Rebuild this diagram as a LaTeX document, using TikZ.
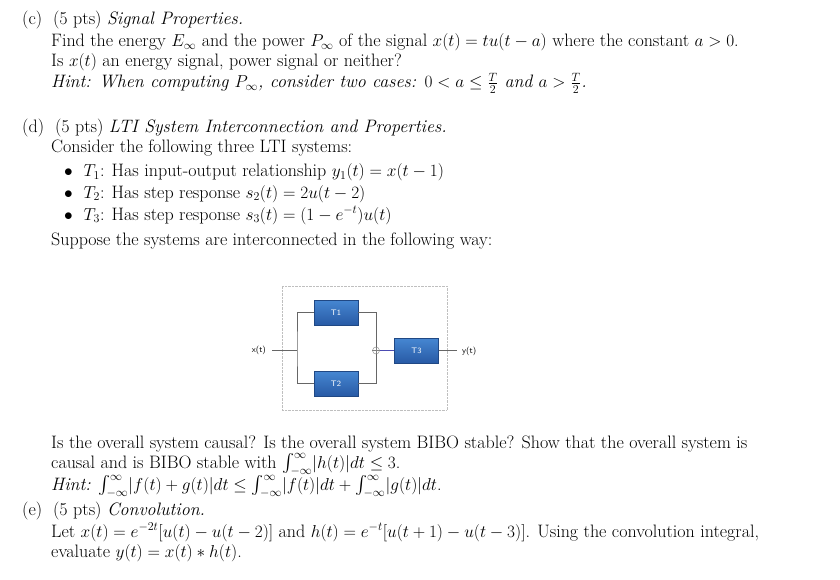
\documentclass[tikz,border=0pt]{standalone}
\usepackage{amsmath,amssymb}
\definecolor{btop}{RGB}{70,135,210}
\definecolor{bbot}{RGB}{40,90,165}
\newcommand{\Iinf}{\smash{\int_{-\infty}^{\infty}}}
\begin{document}
\begin{tikzpicture}[x=1pt,y=-1pt,
  txt/.style={anchor=base west,inner sep=0pt,font=\fontsize{18}{21}\selectfont},
  blk/.style={draw=bbot!80!black,top color=btop,bottom color=bbot,text=white,minimum width=44pt,minimum height=25pt,inner sep=0pt,font=\sffamily\fontsize{8}{9}\selectfont},
  lbl/.style={inner sep=0pt,font=\sffamily\fontsize{8.5}{10}\selectfont},
  wire/.style={draw=gray!80!black,line width=0.8pt}]
\useasboundingbox (0,0) rectangle (840,580);
\node[txt] (c1) at (22,25) {(c)\ \ (5 pts) \textit{Signal Properties.}};
\node[txt] (c2) at (51,47) {Find the energy $E_\infty$ and the power $P_\infty$ of the signal $x(t)=tu(t-a)$ where the constant $a>0$.};
\node[txt] (c3) at (51,67) {Is $x(t)$ an energy signal, power signal or neither?};
\node[txt] (c4) at (51,88) {\textit{Hint: When computing $P_\infty$, consider two cases: $0<a\le\smash{\frac{T}{2}}$ and $a>\smash{\frac{T}{2}}$.}};
\node[txt] (d1) at (22,133) {(d)\ \ (5 pts) \textit{LTI System Interconnection and Properties.}};
\node[txt] (d2) at (51,153) {Consider the following three LTI systems:};
\node[txt] (b1) at (64,177) {$\bullet$\ \ $T_1$: Has input-output relationship $y_1(t)=x(t-1)$};
\node[txt] (b2) at (64,198) {$\bullet$\ \ $T_2$: Has step response $s_2(t)=2u(t-2)$};
\node[txt] (b3) at (64,220) {$\bullet$\ \ $T_3$: Has step response $s_3(t)=(1-e^{-t})u(t)$};
\node[txt] (d3) at (51,245) {Suppose the systems are interconnected in the following way:};
\node[txt] (e1) at (51,448) {Is the overall system causal? Is the overall system BIBO stable? Show that the overall system is};
\node[txt] (e2) at (51,468) {causal and is BIBO stable with $\Iinf|h(t)|dt\le 3$.};
\node[txt] (e3) at (51,490) {\textit{Hint:} $\Iinf|f(t)+g(t)|dt\le\Iinf|f(t)|dt+\Iinf|g(t)|dt$.};
\node[txt] (e4) at (22,515) {(e)\ \ (5 pts) \textit{Convolution.}};
\node[txt] (e5) at (51,537) {Let $x(t)=e^{-2t}[u(t)-u(t-2)]$ and $h(t)=e^{-t}[u(t+1)-u(t-3)]$. Using the convolution integral,};
\node[txt] (e6) at (51,557) {evaluate $y(t)=x(t)*h(t)$.};
% diagram
\node[draw=gray!50,densely dotted,minimum width=165pt,minimum height=124pt,inner sep=0pt] (frame) at (364.5,348) {};
\node[blk] (T1) at (336,312.5) {T1};
\node[blk] (T2) at (336,383.5) {T2};
\node[blk] (T3) at (416.5,350.5) {T3};
\node[lbl,anchor=east] (x) at (266,350) {x(t)};
\node[lbl,anchor=west] (y) at (462,351) {y(t)};
\node[draw=gray,circle,minimum size=7pt,inner sep=0pt] (s) at (376,350.5) {};
\coordinate (sp) at (297,350);
\coordinate (xe) at (272,350);
\coordinate (ye) at (457,350.5);
\draw[wire] (xe) -- (sp);
\draw[wire] (T1.west) -| (sp) |- (T2.west);
\draw[wire] (T1.east) -| (s.north);
\draw[wire] (T2.east) -| (s.south);
\draw[draw=blue!40!gray,line width=0.8pt] (s.east) -- (T3.west);
\draw[gray] (s.west) -- (s.east) (s.north) -- (s.south);
\draw[wire] (T3.east) -- (ye);
\end{tikzpicture}
\end{document}
